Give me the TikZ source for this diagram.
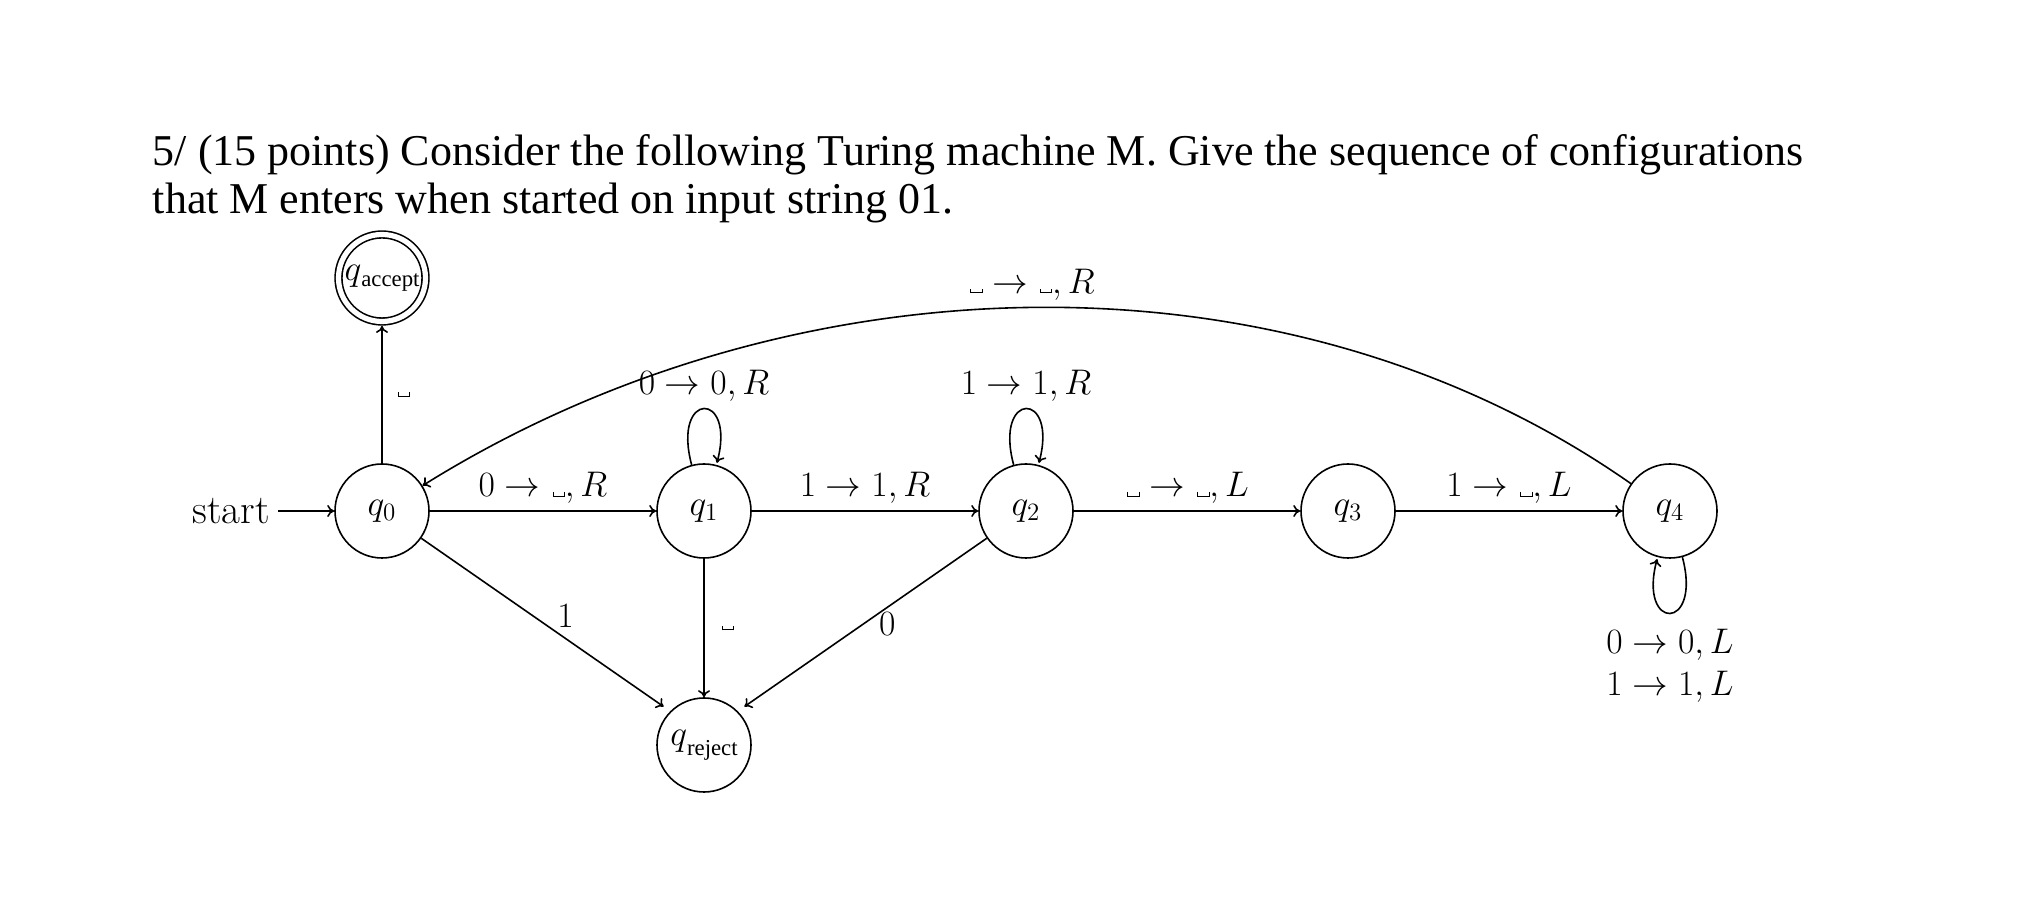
\RequirePackage{fix-cm}
\documentclass[tikz,border=0pt]{standalone}
\usepackage{fontspec}
\newfontfamily\titlefont{Liberation Serif}
\usetikzlibrary{arrows.meta}
\makeatletter
\newcommand{\blnk}{\mbox{\mbox{\kern.06em\vrule\@height.3ex}\vbox{\hrule\@width.3em}\hbox{\vrule\@height.3ex}}}
\makeatother
\newcommand{\qsub}[2]{$q$\raisebox{#2}{\titlefont\fontsize{11.4}{13}\selectfont #1}}
\tikzset{
  st/.style={circle, draw, minimum size=47pt, inner sep=0pt},
  acc/.style={circle, draw, double, double distance=2.6pt, minimum size=43.5pt, inner sep=0pt, outer sep=2.2pt},
  tr/.style={->},
  ttl/.style={anchor=base west, inner sep=0pt, font=\titlefont\fontsize{22}{26}\selectfont},
}
\begin{document}
\begin{tikzpicture}[x=0.5pt, y=0.5pt, line width=0.8pt,
  >={To[length=3.5pt,width=6pt]},
  font=\fontsize{17.8}{21}\selectfont]
\useasboundingbox (0,0) rectangle (2044,910);
\fill[white] (0,0) rectangle (2044,910);

\node[ttl] (t1) at (152,744) {5/ (15 points) Consider the following Turing machine M. Give the sequence of configurations};
\node[ttl] (t2) at (152,696) {that M enters when started on input string 01.};

\node[st] (q0) at (382,399) {$q_0$};
\node[acc] (qacc) at (382,632) {\qsub{accept}{-3pt}};
\node[st] (q1) at (704,399) {$q_1$};
\node[st] (q2) at (1026,399) {$q_2$};
\node[st] (q3) at (1348,399) {$q_3$};
\node[st] (q4) at (1670,399) {$q_4$};
\node[st] (qrej) at (704,165) {\qsub{reject}{-5pt}};
\node[font=\fontsize{20.5}{24}\selectfont, inner sep=4pt] (start) at (231,399) {start};

\draw[tr] (start) -- (q0);
\draw[tr] (q0) -- node[right, xshift=3pt] {$\blnk$} (qacc);
\draw[tr] (q0) -- node[above] {$0\rightarrow\blnk,R$} (q1);
\draw[tr] (q1) -- node[above] {$1\rightarrow1,R$} (q2);
\draw[tr] (q2) -- node[above] {$\blnk\rightarrow\blnk,L$} (q3);
\draw[tr] (q3) -- node[above] {$1\rightarrow\blnk,L$} (q4);
\path (q1) edge[tr, loop above] node[above] {$0\rightarrow0,R$} ();
\path (q2) edge[tr, loop above] node[above] {$1\rightarrow1,R$} ();
\path (q4) edge[tr, loop below] node[below, yshift=-4.5pt, align=center] {$0\rightarrow0,L$\\$1\rightarrow1,L$} ();
\draw[tr] (q4) to[out=145, in=32, out distance=214pt, in distance=214pt]
  node[above] {$\blnk\rightarrow\blnk,R$} (q0);
\draw[tr] (q1) -- node[right, xshift=4pt] {$\blnk$} (qrej);
\draw[tr, shorten >=4pt] (q0) -- node[pos=0.58, above, inner sep=5pt] {$1$} (qrej.north west);
\draw[tr, shorten >=4pt] (q2) -- node[pos=0.4, below, inner sep=2pt] {$0$} (qrej.north east);
\end{tikzpicture}
\end{document}
